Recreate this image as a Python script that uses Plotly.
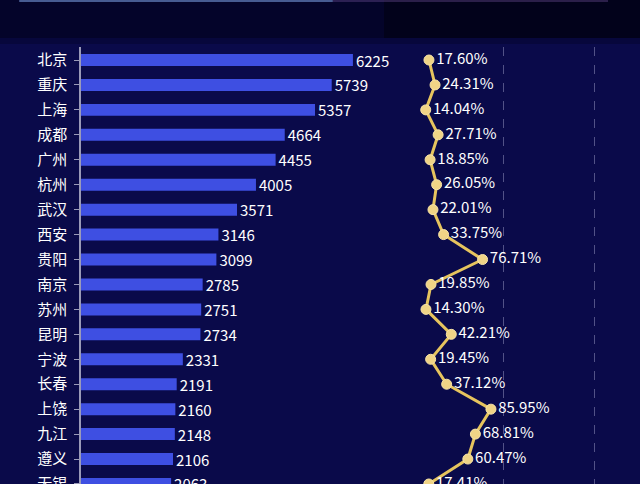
import plotly.graph_objects as go

cities = ["北京", "重庆", "上海", "成都", "广州", "杭州", "武汉", "西安", "贵阳",
          "南京", "苏州", "昆明", "宁波", "长春", "上饶", "九江", "遵义", "无锡"]
counts = [6225, 5739, 5357, 4664, 4455, 4005, 3571, 3146, 3099,
          2785, 2751, 2734, 2331, 2191, 2160, 2148, 2106, 2063]
growth = [17.60, 24.31, 14.04, 27.71, 18.85, 26.05, 22.01, 33.75, 76.71,
          19.85, 14.30, 42.21, 19.45, 37.12, 85.95, 68.81, 60.47, 17.41]
grid_ticks = [100, 200]

W, H = 640, 484
FONT = "Noto Sans CJK SC, Noto Sans, sans-serif"
BG = "#0a0a4a"

fig = go.Figure()

fig.add_trace(go.Bar(
    y=cities, x=counts, orientation="h",
    marker=dict(color="#3e4fe2", line=dict(width=0)),
    width=0.48,
    text=[str(v) for v in counts], textposition="outside",
    constraintext="none",
    textfont=dict(color="white", size=15, family=FONT),
    cliponaxis=False,
    xaxis="x", yaxis="y",
))

fig.add_trace(go.Scatter(
    y=cities, x=growth, mode="lines+markers+text",
    line=dict(color="#e6c45e", width=3),
    marker=dict(size=10, color="#f0d486", line=dict(color="#f7e3a8", width=1)),
    text=[f"{v:.2f}%" for v in growth], textposition="middle right",
    textfont=dict(color="white", size=15, family=FONT),
    cliponaxis=False,
    xaxis="x2", yaxis="y",
))

pitch = 24.94
top_px, first_row = 47, 60
y_top = (top_px - first_row) / pitch
y_bot = (H - first_row) / pitch

fig.update_layout(
    width=W, height=H,
    margin=dict(l=0, r=0, t=0, b=0, autoexpand=False),
    paper_bgcolor=BG, plot_bgcolor=BG,
    showlegend=False,
    font=dict(family=FONT, color="white"),
    xaxis=dict(domain=[81 / W, 413 / W], range=[0, 7600], visible=False,
               showgrid=False, zeroline=False, automargin=False),
    xaxis2=dict(domain=[413 / W, 1], range=[0, 250.3], anchor="y",
                showgrid=True, gridcolor="rgba(170,170,210,0.45)", griddash="dash",
                gridwidth=1, tickvals=grid_ticks, showticklabels=False,
                zeroline=False, showline=False, ticks="", automargin=False),
    yaxis=dict(domain=[0, 1 - top_px / H], range=[y_bot, y_top],
               type="category", showgrid=False, zeroline=False,
               showline=True, linecolor="#9a9ab8", linewidth=1.5,
               ticks="outside", ticklen=5, tickcolor="#9a9ab8", tickwidth=1,
               ticklabelstandoff=4, automargin=False,
               tickfont=dict(color="white", size=15, family=FONT),
               anchor="x"),
    bargap=0.5,
)

# Decorative dark top band with a soft glow line
fig.add_shape(type="rect", xref="paper", yref="paper", x0=0, x1=1,
              y0=1 - 38 / H, y1=1, fillcolor="#04042a", line_width=0, layer="below")
fig.add_shape(type="rect", xref="paper", yref="paper", x0=0.6, x1=1,
              y0=1 - 38 / H, y1=1, fillcolor="#020216", line_width=0, layer="below", opacity=0.7)
fig.add_shape(type="rect", xref="paper", yref="paper", x0=0, x1=1,
              y0=1 - 44 / H, y1=1 - 38 / H, fillcolor="#07073c", line_width=0, layer="below")
fig.add_shape(type="rect", xref="paper", yref="paper", x0=0.03, x1=0.52,
              y0=1 - 2 / H, y1=1, fillcolor="#7fa6e8", line_width=0, layer="above", opacity=0.55)
fig.add_shape(type="rect", xref="paper", yref="paper", x0=0.52, x1=0.95,
              y0=1 - 2 / H, y1=1, fillcolor="#6a4a90", line_width=0, layer="above", opacity=0.4)

fig.write_html("out.html")
